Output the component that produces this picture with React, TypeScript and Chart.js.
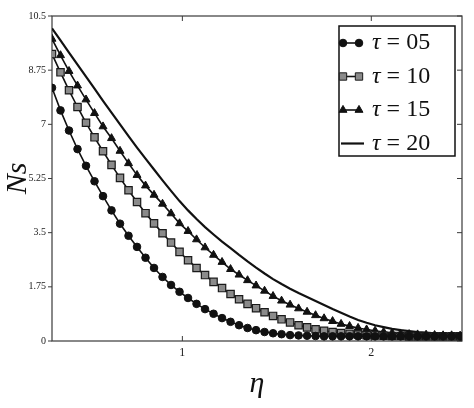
import { useEffect, useRef } from 'react'
import { Chart, registerables } from 'chart.js'

Chart.register(...registerables)

// eta grid (x) and Ns values for each tau
const eta = [
  0.31, 0.355, 0.4, 0.445, 0.49, 0.535, 0.58, 0.625, 0.67, 0.715,
  0.76, 0.805, 0.85, 0.895, 0.94, 0.985, 1.03, 1.075, 1.12, 1.165,
  1.21, 1.255, 1.3, 1.345, 1.39, 1.435, 1.48, 1.525, 1.57, 1.615,
  1.66, 1.705, 1.75, 1.795, 1.84, 1.885, 1.93, 1.975, 2.02, 2.065,
  2.11, 2.155, 2.2, 2.245, 2.29, 2.335, 2.38, 2.425, 2.47,
]

const tau05 = [
  8.18, 7.45, 6.8, 6.2, 5.66, 5.16, 4.68, 4.22, 3.79, 3.4,
  3.04, 2.69, 2.36, 2.07, 1.81, 1.59, 1.39, 1.2, 1.03, 0.88,
  0.74, 0.62, 0.51, 0.42, 0.35, 0.29, 0.25, 0.22, 0.19, 0.18,
  0.17, 0.16, 0.15, 0.15, 0.15, 0.15, 0.15, 0.15, 0.15, 0.15,
  0.15, 0.15, 0.15, 0.15, 0.15, 0.15, 0.15, 0.15, 0.15,
]

const tau10 = [
  9.27, 8.68, 8.1, 7.56, 7.05, 6.58, 6.13, 5.69, 5.27, 4.87,
  4.49, 4.13, 3.8, 3.48, 3.18, 2.88, 2.61, 2.36, 2.13, 1.91,
  1.71, 1.52, 1.35, 1.2, 1.06, 0.93, 0.81, 0.7, 0.6, 0.51,
  0.44, 0.38, 0.33, 0.29, 0.26, 0.23, 0.21, 0.19, 0.18, 0.17,
  0.16, 0.16, 0.15, 0.15, 0.15, 0.15, 0.15, 0.15, 0.15,
]

const tau15 = [
  9.76, 9.23, 8.72, 8.25, 7.8, 7.36, 6.93, 6.55, 6.14, 5.74,
  5.36, 5.02, 4.72, 4.43, 4.12, 3.8, 3.55, 3.28, 3.02, 2.78,
  2.55, 2.32, 2.14, 1.96, 1.79, 1.62, 1.45, 1.3, 1.17, 1.05,
  0.94, 0.83, 0.73, 0.64, 0.55, 0.48, 0.42, 0.37, 0.33, 0.29,
  0.26, 0.24, 0.22, 0.21, 0.2, 0.19, 0.18, 0.18, 0.17,
]

const tau20 = [
  10.1, 9.71, 9.32, 8.93, 8.54, 8.15, 7.76, 7.38, 7.0, 6.62,
  6.25, 5.89, 5.54, 5.19, 4.85, 4.52, 4.22, 3.94, 3.68, 3.44,
  3.21, 3.0, 2.78, 2.57, 2.37, 2.18, 2.0, 1.84, 1.69, 1.55,
  1.42, 1.29, 1.16, 1.03, 0.91, 0.79, 0.68, 0.59, 0.51, 0.45,
  0.39, 0.35, 0.32, 0.29, 0.27, 0.25, 0.24, 0.23, 0.22,
]

const seriesLabels = ['τ = 05', 'τ = 10', 'τ = 15', 'τ = 20']
const xTickValues = [1, 2]
const yTickValues = [0, 1.75, 3.5, 5.25, 7, 8.75, 10.5]

const SERIF = '"Liberation Serif", "Times New Roman", serif'

const toPoints = (ys: number[]) => eta.map((x, i) => ({ x, y: ys[i] }))

function drawMarker(ctx: CanvasRenderingContext2D, style: string, x: number, y: number, r: number) {
  ctx.beginPath()
  if (style === 'circle') {
    ctx.arc(x, y, r, 0, Math.PI * 2)
  } else if (style === 'rect') {
    const s = r * Math.SQRT1_2
    ctx.rect(x - s, y - s, 2 * s, 2 * s)
  } else if (style === 'triangle') {
    ctx.moveTo(x, y - r)
    ctx.lineTo(x + r * 0.866, y + r * 0.5)
    ctx.lineTo(x - r * 0.866, y + r * 0.5)
    ctx.closePath()
  }
  ctx.fill()
  ctx.stroke()
}

const framePlugin = {
  id: 'frame',
  beforeDatasetsDraw(chart: Chart) {
    const { ctx, chartArea: a, scales } = chart
    ctx.save()
    ctx.strokeStyle = '#3a3a3a'
    ctx.lineWidth = 1.2
    ctx.strokeRect(a.left, a.top, a.right - a.left, a.bottom - a.top)
    ctx.lineWidth = 1
    ctx.beginPath()
    xTickValues.forEach((v) => {
      const px = scales.x.getPixelForValue(v)
      ctx.moveTo(px, a.bottom)
      ctx.lineTo(px, a.bottom - 5)
      ctx.moveTo(px, a.top)
      ctx.lineTo(px, a.top + 5)
    })
    yTickValues.forEach((v) => {
      const py = scales.y.getPixelForValue(v)
      ctx.moveTo(a.left - 4, py)
      ctx.lineTo(a.left, py)
      ctx.moveTo(a.right, py)
      ctx.lineTo(a.right - 5, py)
    })
    ctx.stroke()
    ctx.restore()
  },
  afterDraw(chart: Chart) {
    const { ctx, chartArea: a } = chart
    const boxW = 116
    const boxH = 130
    const bx = a.right - boxW - 7
    const by = a.top + 10
    ctx.save()
    ctx.fillStyle = '#fff'
    ctx.fillRect(bx, by, boxW, boxH)
    ctx.strokeStyle = '#111'
    ctx.lineWidth = 1.5
    ctx.strokeRect(bx, by, boxW, boxH)

    chart.data.datasets.forEach((ds: any, i: number) => {
      const cy = by + 17 + i * 33.5
      ctx.strokeStyle = ds.borderColor
      ctx.lineWidth = ds.borderWidth
      ctx.beginPath()
      ctx.moveTo(bx + 2, cy)
      ctx.lineTo(bx + (ds.pointRadius > 0 ? 21 : 25), cy)
      ctx.stroke()
      if (ds.pointRadius > 0) {
        ctx.fillStyle = ds.pointBackgroundColor
        ctx.strokeStyle = ds.pointBorderColor
        ctx.lineWidth = 1
        drawMarker(ctx, ds.pointStyle, bx + 4, cy, ds.pointRadius)
        drawMarker(ctx, ds.pointStyle, bx + 20, cy, ds.pointRadius)
      }
      const label: string = ds.label
      ctx.fillStyle = '#111'
      ctx.textBaseline = 'middle'
      ctx.textAlign = 'left'
      ctx.font = `italic 24px ${SERIF}`
      const tx = bx + 33
      ctx.fillText(label[0], tx, cy)
      const w = ctx.measureText(label[0]).width
      ctx.font = `24px ${SERIF}`
      ctx.fillText(label.slice(1), tx + w, cy)
    })
    ctx.restore()
  },
}

export default function App() {
  const canvasRef = useRef<HTMLCanvasElement | null>(null)
  const chartRef = useRef<Chart | null>(null)

  useEffect(() => {
    const ctx = canvasRef.current?.getContext('2d')
    if (!ctx) return

    const common = {
      borderColor: '#111',
      showLine: true,
      tension: 0,
      fill: false,
    }

    chartRef.current = new Chart(ctx, {
      type: 'line',
      data: {
        datasets: [
          {
            ...common,
            label: seriesLabels[0],
            data: toPoints(tau05),
            borderWidth: 1.6,
            pointStyle: 'circle',
            pointRadius: 3.8,
            pointBackgroundColor: '#111',
            pointBorderColor: '#111',
            pointBorderWidth: 1,
          },
          {
            ...common,
            label: seriesLabels[1],
            data: toPoints(tau10),
            borderWidth: 1.6,
            pointStyle: 'rect',
            pointRadius: 5.2,
            pointBackgroundColor: '#8a8a8a',
            pointBorderColor: '#1a1a1a',
            pointBorderWidth: 1.2,
          },
          {
            ...common,
            label: seriesLabels[2],
            data: toPoints(tau15),
            borderWidth: 1.6,
            pointStyle: 'triangle',
            pointRadius: 4.6,
            pointBackgroundColor: '#111',
            pointBorderColor: '#111',
            pointBorderWidth: 1,
          },
          {
            ...common,
            label: seriesLabels[3],
            data: toPoints(tau20),
            borderWidth: 2.2,
            pointRadius: 0,
            pointStyle: 'line',
            pointBackgroundColor: '#111',
            pointBorderColor: '#111',
          },
        ],
      },
      options: {
        animation: false,
        responsive: true,
        maintainAspectRatio: false,
        layout: { padding: { left: 0, right: 12, top: 16, bottom: 0 } },
        plugins: {
          legend: { display: false },
          title: { display: false },
          tooltip: { enabled: false },
        },
        scales: {
          x: {
            type: 'linear',
            min: 0.31,
            max: 2.48,
            afterBuildTicks: (s: any) => {
              s.ticks = xTickValues.map((value) => ({ value }))
            },
            afterFit: (s: any) => {
              s.height = 67
            },
            grid: { display: false, drawTicks: false },
            border: { display: false },
            ticks: {
              padding: 5,
              color: '#222',
              font: { family: SERIF, size: 12 },
              callback: (v: any) => String(v),
            },
            title: {
              display: true,
              text: 'η',
              color: '#111',
              font: { family: SERIF, size: 30, style: 'italic' },
              padding: { top: 0, bottom: 6 },
            },
          },
          y: {
            type: 'linear',
            min: 0,
            max: 10.5,
            afterBuildTicks: (s: any) => {
              s.ticks = yTickValues.map((value) => ({ value }))
            },
            afterFit: (s: any) => {
              s.width = 52
            },
            grid: { display: false, drawTicks: false },
            border: { display: false },
            ticks: {
              padding: 6,
              color: '#222',
              font: { family: SERIF, size: 10 },
              callback: (v: any) => String(v),
            },
            title: {
              display: true,
              text: 'Ns',
              color: '#111',
              font: { family: SERIF, size: 30, style: 'italic' },
              padding: { top: 0, bottom: 0 },
            },
          },
        },
      },
      plugins: [framePlugin],
    })

    return () => {
      chartRef.current?.destroy()
      chartRef.current = null
    }
  }, [])

  return (
    <div style={{ position: 'fixed', left: 0, top: 0, width: 474, height: 408, background: '#fff' }}>
      <canvas ref={canvasRef} />
    </div>
  )
}
